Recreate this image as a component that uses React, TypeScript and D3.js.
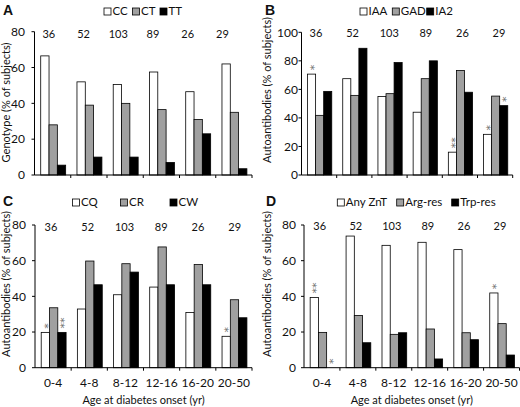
import * as d3 from 'd3';

// Age groups and subject counts shared by all four panels
const ageGroups = ['0-4', '4-8', '8-12', '12-16', '16-20', '20-50'];
const subjectCounts = ['36', '52', '103', '89', '26', '29'];

// A: genotype
const genotypeKeys = ['CC', 'CT', 'TT'];
const ccValues = [66.5, 52, 50.5, 57.5, 46.5, 62];
const ctValues = [28, 39, 40, 36.5, 31, 35];
const ttValues = [5.5, 10, 10, 7, 23, 3.5];

// B: IAA / GAD / IA2
const abKeys = ['IAA', 'GAD', 'IA2'];
const iaaValues = [70.7, 67.5, 55, 44, 16, 28.5];
const gadValues = [41.8, 55.8, 57, 67.5, 73.3, 55.3];
const ia2Values = [58.6, 88.8, 78.8, 80, 58, 48.6];

// C: ZnT8 variants
const variantKeys = ['CQ', 'CR', 'CW'];
const cqValues = [19.8, 32.9, 40.9, 45.2, 31, 17.6];
const crValues = [33.6, 59.8, 58.3, 67.7, 57.8, 38.1];
const cwValues = [19.8, 46.5, 53.6, 46.5, 46.5, 28];

// D: ZnT8 residue
const residueKeys = ['Any ZnT', 'Arg-res', 'Trp-res'];
const anyZntValues = [39.3, 73.8, 68.6, 70.3, 66.2, 41.9];
const argValues = [19.8, 29.3, 18.7, 21.7, 19.6, 24.7];
const trpValues = [0, 14, 19.6, 4.9, 15.7, 7.1];

// significance marks: [series index, group index, label]
const starsB: [number, number, string][] = [[0, 0, '*'], [0, 4, '**'], [0, 5, '*'], [2, 5, '*']];
const starsC: [number, number, string][] = [[0, 0, '*'], [2, 0, '**'], [0, 5, '*']];
const starsD: [number, number, string][] = [[0, 0, '**'], [2, 0, '*'], [0, 5, '*']];

const FILLS = ['#ffffff', '#a0a0a0', '#000000'];
const FONT = 'Lato, "Open Sans", sans-serif';

interface PanelSpec {
  letter: string;
  letterX: number;
  letterY: number;
  keys: string[];
  series: number[][];
  stars: [number, number, string][];
  max: number;
  x0: number;
  x1: number;
  yTop: number;
  yBase: number;
  labelGap: number;
  yTitle: string;
  yTitleX: number;
  yTitleY: number;
  legendX: number[];
  legendY: number;
  countRange: [number, number];
  countY: number;
  showAges: boolean;
}

const panels: PanelSpec[] = [
  {
    letter: 'A', letterX: 3, letterY: 15,
    keys: genotypeKeys, series: [ccValues, ctValues, ttValues], stars: [],
    max: 80, x0: 34.5, x1: 252, yTop: 31.7, yBase: 175, labelGap: 9.5,
    yTitle: 'Genotype (% of subjects)', yTitleX: 7.5, yTitleY: 102.5,
    legendX: [104, 132.5, 160], legendY: 15,
    countRange: [48.8, 222.4], countY: 38, showAges: false,
  },
  {
    letter: 'B', letterX: 265, letterY: 15,
    keys: abKeys, series: [iaaValues, gadValues, ia2Values], stars: starsB,
    max: 100, x0: 301.5, x1: 512.7, yTop: 32.3, yBase: 175, labelGap: 3.5,
    yTitle: 'Autoantibodies (% of subjects)', yTitleX: 268.5, yTitleY: 90,
    legendX: [360, 392.3, 426.7], legendY: 15,
    countRange: [316, 499], countY: 36.5, showAges: false,
  },
  {
    letter: 'C', letterX: 3, letterY: 206,
    keys: variantKeys, series: [cqValues, crValues, cwValues], stars: starsC,
    max: 80, x0: 35, x1: 252, yTop: 225, yBase: 367.7, labelGap: 9,
    yTitle: 'Autoantibodies (% of subjects)', yTitleX: 7.5, yTitleY: 284,
    legendX: [72.5, 120.5, 170], legendY: 206,
    countRange: [51, 234.7], countY: 230.5, showAges: true,
  },
  {
    letter: 'D', letterX: 266, letterY: 206,
    keys: residueKeys, series: [anyZntValues, argValues, trpValues], stars: starsD,
    max: 80, x0: 304, x1: 519.5, yTop: 225, yBase: 367.7, labelGap: 8,
    yTitle: 'Autoantibodies (% of subjects)', yTitleX: 268.5, yTitleY: 284,
    legendX: [337.3, 396.7, 451.7], legendY: 206,
    countRange: [319.7, 500], countY: 229.5, showAges: true,
  },
];

function Panel({ p }: { p: PanelSpec }) {
  const x = d3.scaleBand<string>().domain(ageGroups).range([p.x0, p.x1]);
  const inner = d3.scaleBand<string>()
    .domain(p.keys)
    .range([0, x.step()])
    .paddingOuter(0.68)
    .align(0.55);
  const y = d3.scaleLinear().domain([0, p.max]).range([p.yBase, p.yTop]);
  const counts = d3.scalePoint<string>().domain(ageGroups).range(p.countRange);
  const yTicks = y.ticks(5);

  return (
    <g>
      <text x={p.letterX} y={p.letterY} fontSize={14} fontWeight="bold"
        fontFamily='"Liberation Sans", Arial, sans-serif'>
        {p.letter}
      </text>

      {/* legend */}
      {p.keys.map((k, i) => (
        <g key={k}>
          <rect x={p.legendX[i]} y={p.legendY - 7} width={7} height={7}
            fill={FILLS[i]} stroke="#000" strokeWidth={0.8} />
          <text x={p.legendX[i] + 8.5} y={p.legendY} fontSize={11.5}>{k}</text>
        </g>
      ))}

      {/* y axis title */}
      <text
        transform={`translate(${p.yTitleX},${p.yTitleY}) rotate(-90)`}
        textAnchor="middle" dominantBaseline="middle" fontSize={11}
      >
        {p.yTitle}
      </text>

      {/* bars */}
      {ageGroups.map((g, gi) => (
        <g key={g}>
          {p.keys.map((k, si) => {
            const v = p.series[si][gi];
            return (
              <rect key={k}
                x={(x(g) ?? 0) + (inner(k) ?? 0)}
                y={y(v)}
                width={inner.bandwidth()}
                height={p.yBase - y(v)}
                fill={FILLS[si]}
                stroke="#000"
                strokeWidth={v > 0 ? 0.8 : 0}
              />
            );
          })}
        </g>
      ))}

      {/* significance stars: rotated so that "**" reads as a vertical stack */}
      {p.stars.map(([si, gi, label]) => {
        const cx = (x(ageGroups[gi]) ?? 0) + (inner(p.keys[si]) ?? 0) + inner.bandwidth() / 2;
        const cy = y(p.series[si][gi]) - 6.5 - (label.length - 1) * 3;
        return (
          <text key={`${si}-${gi}`}
            transform={`translate(${cx + 6.2},${cy}) rotate(-90)`}
            textAnchor="middle" fontSize={11} fill="#707070"
            fontFamily='"DejaVu Sans", sans-serif'>
            {label}
          </text>
        );
      })}

      {/* axes */}
      <line x1={p.x0} x2={p.x0} y1={p.yBase} y2={p.yTop} stroke="#000" strokeWidth={1} />
      <line x1={p.x0} x2={p.x1} y1={p.yBase} y2={p.yBase} stroke="#000" strokeWidth={1} />
      {yTicks.map((t) => (
        <g key={t}>
          <line x1={p.x0 - 3} x2={p.x0} y1={y(t)} y2={y(t)} stroke="#000" strokeWidth={1} />
          <text x={p.x0 - p.labelGap} y={y(t)} dy="0.35em" textAnchor="end" fontSize={12}>
            {t}
          </text>
        </g>
      ))}
      {ageGroups.map((g) => (
        <line key={g} x1={(x(g) ?? 0) + x.step()} x2={(x(g) ?? 0) + x.step()}
          y1={p.yBase} y2={p.yBase + 3} stroke="#000" strokeWidth={1} />
      ))}

      {/* subject counts */}
      {ageGroups.map((g, i) => (
        <text key={g} x={counts(g)} y={p.countY} textAnchor="middle" fontSize={11}>
          {subjectCounts[i]}
        </text>
      ))}

      {p.showAges && (
        <>
          {ageGroups.map((g) => (
            <text key={g} x={(x(g) ?? 0) + x.step() / 2} y={386.7}
              textAnchor="middle" fontSize={12}>
              {g}
            </text>
          ))}
          <text x={(p.x0 + p.x1) / 2} y={404} textAnchor="middle" fontSize={11}>
            Age at diabetes onset (yr)
          </text>
        </>
      )}
    </g>
  );
}

export default function App() {
  return (
    <svg
      width={520}
      height={407}
      viewBox="0 0 520 407"
      style={{ position: 'absolute', left: 0, top: 0, display: 'block', background: '#fff' }}
      fontFamily={FONT}
      fill="#111"
    >
      {panels.map((p) => (
        <Panel key={p.letter} p={p} />
      ))}
    </svg>
  );
}
